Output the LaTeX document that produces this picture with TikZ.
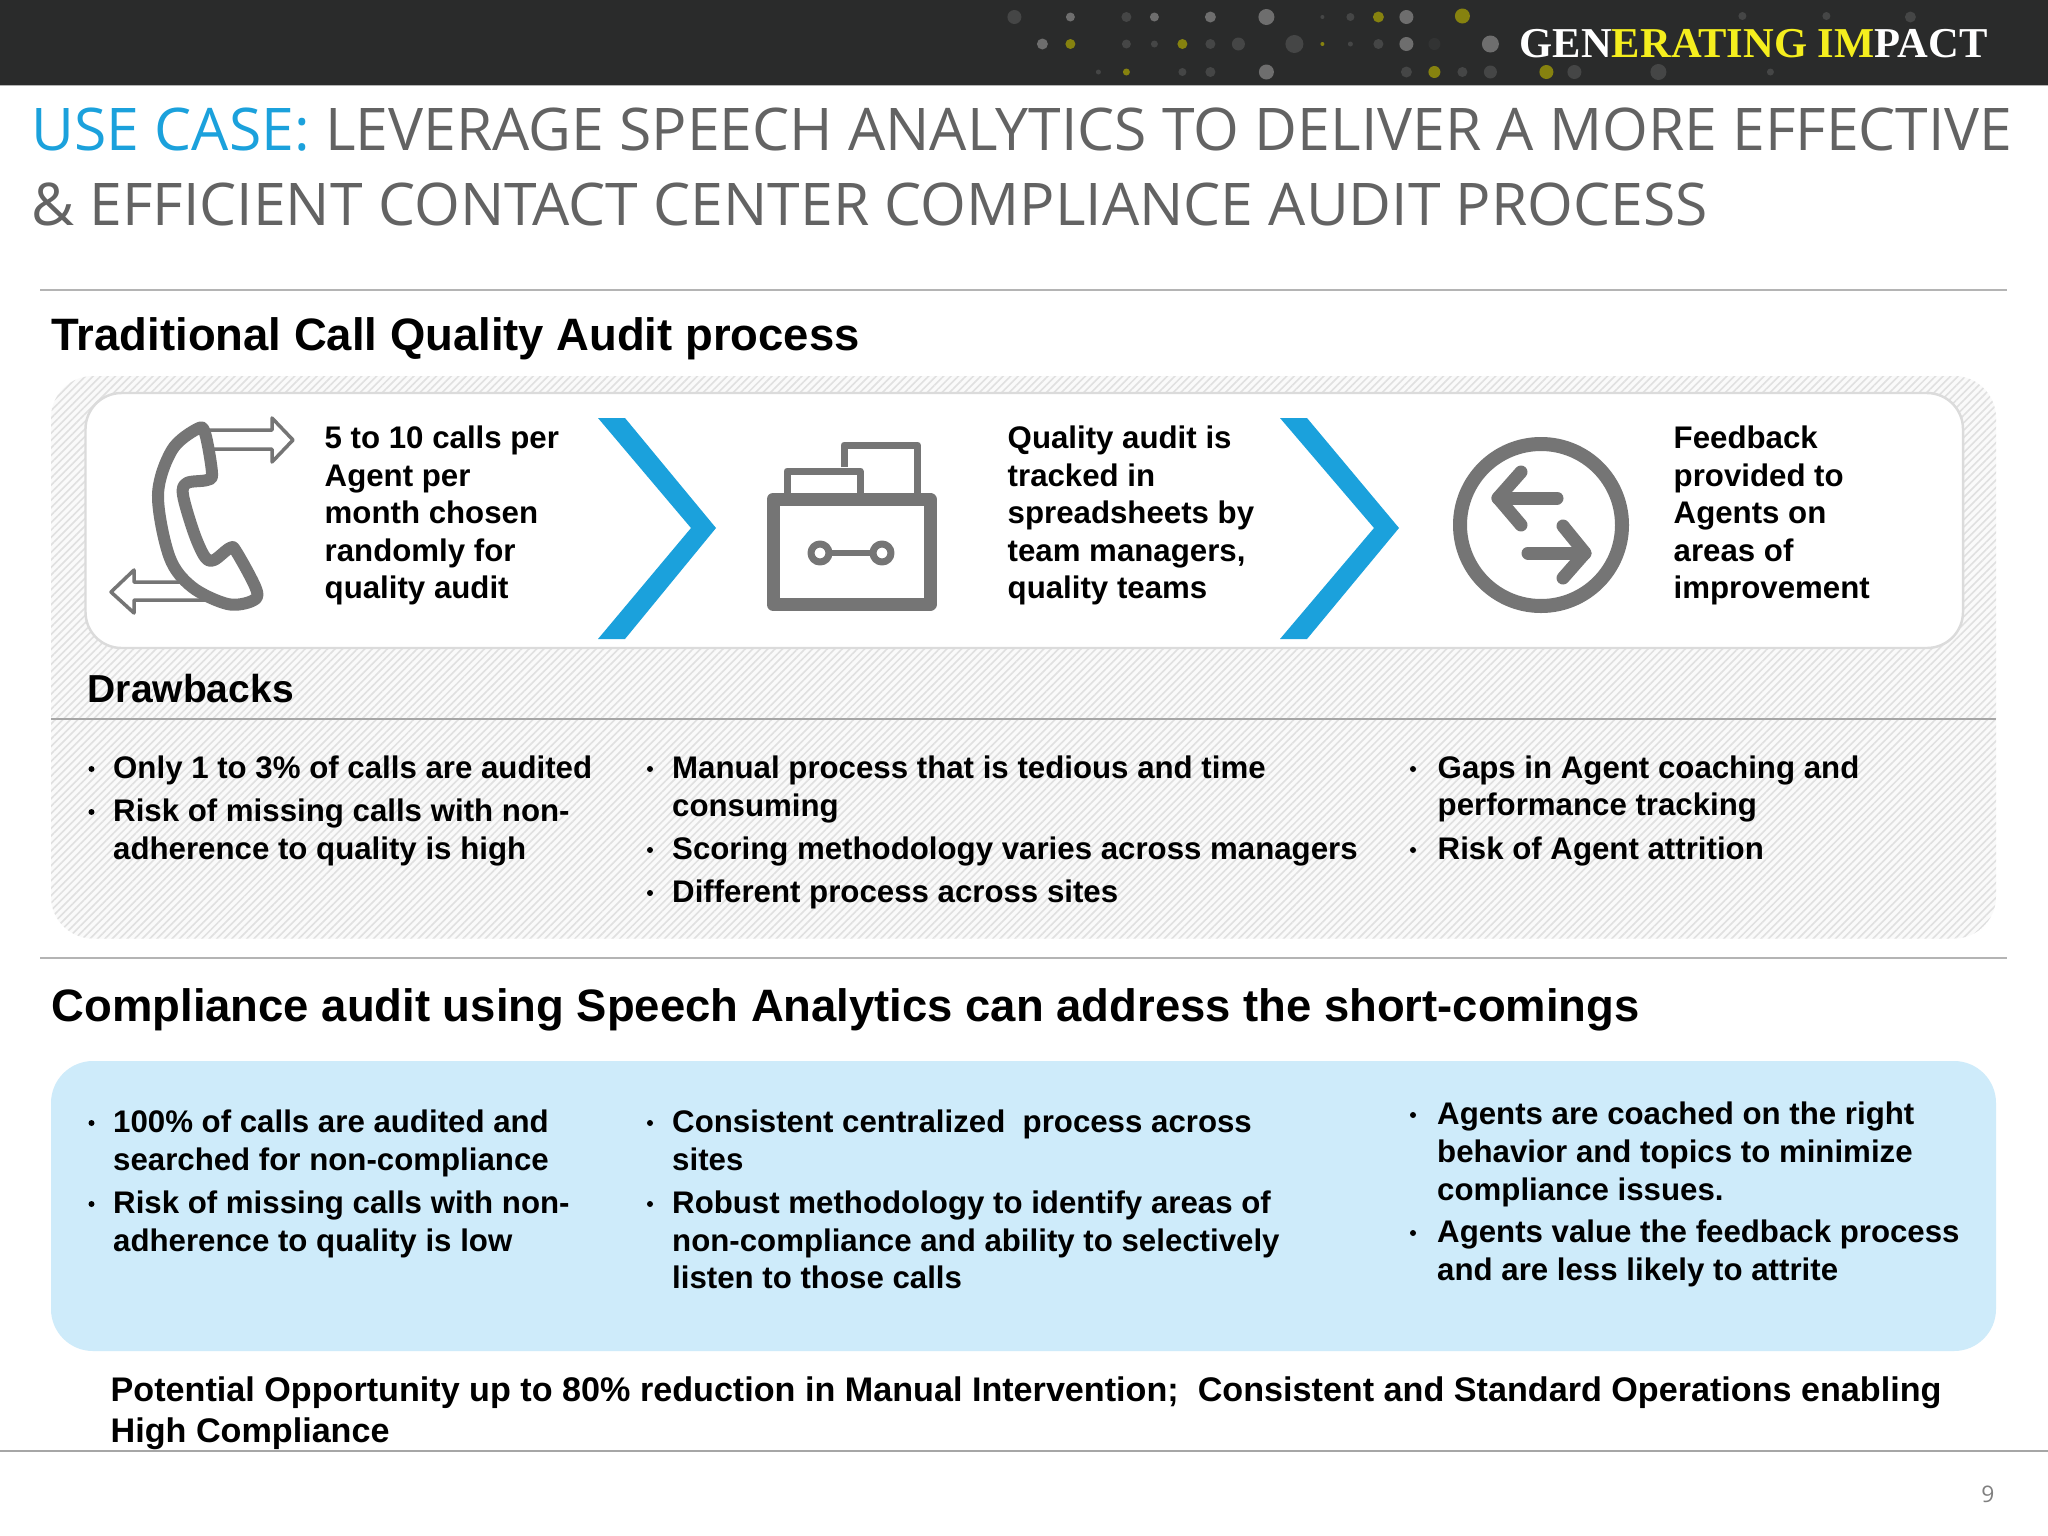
\documentclass[tikz,border=0pt]{standalone}
\usepackage{fontspec}
\usepackage{xcolor}
\usepackage{tikz}
\setmainfont{Liberation Sans}
\newfontfamily\titlefont{Open Sans}
\newfontfamily\logofont{Liberation Serif}
\usetikzlibrary{shapes,positioning,calc,patterns.meta}
\definecolor{bandDark}{HTML}{2A2B2B}
\definecolor{accentBlue}{HTML}{1BA1DC}
\definecolor{titleGray}{HTML}{636363}
\definecolor{iconGray}{HTML}{757575}
\definecolor{ruleGray}{HTML}{B4B4B4}
\definecolor{paleBlue}{HTML}{CEEBFA}
\definecolor{logoYellow}{HTML}{F5EE1E}
\definecolor{dotGray}{HTML}{6E6E6E}
\definecolor{dotDim}{HTML}{454646}
\definecolor{dotOlive}{HTML}{86820F}
\tikzset{
    bodytxt/.style={anchor=base west,inner sep=0pt,font=\fontsize{8.88}{10}\selectfont\bfseries,text=black},
    headtxt/.style={anchor=base west,inner sep=0pt,font=\fontsize{12.92}{14}\selectfont\bfseries,text=black},
    closetxt/.style={anchor=base west,inner sep=0pt,font=\fontsize{9.71}{11}\selectfont\bfseries,text=black},
    titletxt/.style={anchor=base west,inner sep=0pt,font=\fontsize{16.73}{20}\selectfont\titlefont,text=titleGray},
    bul/.style={circle,fill=black,inner sep=0pt,minimum size=0.06cm},
    rulerln/.style={draw=ruleGray,line width=0.4pt},
    chevron/.style={fill=accentBlue},
    iconln/.style={draw=iconGray,line join=round},
}
\begin{document}
\begin{tikzpicture}[x=0.01cm,y=-0.01cm]
    \useasboundingbox (0,0) rectangle (2048,1536);
    \fill[white] (0,0) rectangle (2048,1536);

    % Dark band with dots and logo
    \fill[bandDark] (0,0) rectangle (2048,85);
    \draw[ruleGray,line width=0.5pt] (0,85.5) -- (2048,85.5);
    \foreach \k/\row/\rad/\col in {0/17/7/dotDim,2/17/4.5/dotGray,4/17/5/dotDim,5/17/4.5/dotGray,7/17/5.5/dotGray,
        9/17/8/dotGray,11/17/2/dotDim,12/17/4/dotDim,13/17/5.5/dotOlive,14/17/7/dotGray,16/16/7.5/dotOlive,
        26/16/4/dotDim,29/16/4/dotDim,32/17/5.5/dotDim,
        1/44/5.5/dotGray,2/44/5/dotOlive,4/44/4.5/dotDim,5/44/3.5/dotDim,6/44/5/dotOlive,7/44/5/dotDim,8/44/6.5/dotDim,
        10/44/9/dotDim,11/44/2/dotOlive,12/44/2.5/dotDim,13/44/5/dotDim,14/44/7/dotGray,15/44/6/bandDark!70!dotDim,17/44/8.5/dotGray,
        3/72/2.5/dotDim,4/72/3.5/dotOlive,6/72/4/dotDim,7/72/5/dotDim,9/72/7.5/dotGray,
        14/72/5.5/dotDim,15/72/6/dotOlive,16/72/5/dotDim,17/72/6.5/dotDim,19/72/7/dotOlive,20/72/7/dotDim,23/72/8/dotDim,27/72/3.5/dotDim} {
        \fill[\col] ({1014.4+28*\k},\row) circle ({\rad});
    }
    \node[anchor=base west,inner sep=0pt,font=\fontsize{12.1}{14}\selectfont\logofont\bfseries,text=white] (logo) at (1519,57)
        {GEN\textcolor{logoYellow}{ERATING IM}PACT};

    % Page title
    \node[titletxt] (titleA) at (31,150.5) {\textcolor{accentBlue}{USE CASE:} LEVERAGE SPEECH ANALYTICS TO DELIVER A MORE EFFECTIVE};
    \node[titletxt] (titleB) at (31,225) {\& EFFICIENT CONTACT CENTER COMPLIANCE AUDIT PROCESS};
    \draw[rulerln] (40,290) -- (2007,290);

    % Hatched panel
    \node[headtxt] (tradHead) at (51,350) {Traditional Call Quality Audit process};
    \fill[rounded corners=0.42cm,fill=black!2,postaction={pattern={Lines[angle=45,distance=1.5pt,line width=0.45pt]},pattern color=black!12}]
        (51,376) rectangle (1996,938.5);
    \draw[rounded corners=0.36cm,fill=white,draw=black!14,line width=0.7pt] (85.5,393) rectangle (1963,648);

    % Chevrons
    \fill[chevron] (598,418) -- (625,418) -- (716,528) -- (625,639) -- (598,639) -- (691,528) -- cycle;
    \fill[chevron] (1280,418) -- (1307,418) -- (1399,528) -- (1307,639) -- (1280,639) -- (1374,528) -- cycle;

    % Phone with two arrows
    \draw[iconln,line width=0.035cm] (205,430) -- (272,430) -- (272,418) -- (293,440) -- (272,462) -- (272,449) -- (210,449);
    \draw[iconln,line width=0.035cm] (183,582) -- (134,582) -- (134,570) -- (111,592) -- (134,613) -- (134,600) -- (212,600);
    \draw[iconln,line width=0.12cm] plot[smooth cycle,tension=0.55] coordinates {
        (197,429) (172,450) (158,495) (169.5,557) (192,587) (227.5,604) (252,601) (256.5,590) (236.5,552) (230,548)
        (214,560) (205,557) (194,533) (183,495) (187,483) (207,480) (212,473) (205,433)};

    % File box
    \draw[iconln,line width=0.07cm] (787,493) -- (787,471) -- (860,471) -- (860,493);
    \draw[iconln,line width=0.07cm] (844,467) -- (844,445) -- (917.5,445) -- (917.5,493);
    \draw[iconln,line width=0.13cm] (773,499) rectangle (930,604.5);
    \draw[iconln,line width=0.06cm] (820,553) -- (882,553);
    \draw[iconln,fill=white,line width=0.07cm] (820,553) circle (9);
    \draw[iconln,fill=white,line width=0.07cm] (882,553) circle (9);

    % Feedback circle
    \draw[iconln,line width=0.14cm] (1541,525) circle (81);
    \draw[iconln,line width=0.13cm,line cap=round] (1557,498) -- (1498,498);
    \draw[iconln,line width=0.13cm,line cap=round] (1521,472) -- (1498,498) -- (1521,525);
    \draw[iconln,line width=0.13cm,line cap=round] (1528,553) -- (1585,553);
    \draw[iconln,line width=0.13cm,line cap=round] (1563,526) -- (1585,553) -- (1563,578);

    % Step texts
    \node[bodytxt] (stepAa) at (324,448) {5 to 10 calls per};
    \node[bodytxt] (stepAb) at (324,486) {Agent per};
    \node[bodytxt] (stepAc) at (324,523.5) {month chosen};
    \node[bodytxt] (stepAd) at (324,561) {randomly for};
    \node[bodytxt] (stepAe) at (324,598.5) {quality audit};
    \node[bodytxt] (stepBa) at (1007,448) {Quality audit is};
    \node[bodytxt] (stepBb) at (1007,486) {tracked in};
    \node[bodytxt] (stepBc) at (1007,523.5) {spreadsheets by};
    \node[bodytxt] (stepBd) at (1007,561) {team managers,};
    \node[bodytxt] (stepBe) at (1007,598.5) {quality teams};
    \node[bodytxt] (stepCa) at (1673,448) {Feedback};
    \node[bodytxt] (stepCb) at (1673,486) {provided to};
    \node[bodytxt] (stepCc) at (1673,523.5) {Agents on};
    \node[bodytxt] (stepCd) at (1673,561) {areas of};
    \node[bodytxt] (stepCe) at (1673,598.5) {improvement};

    % Drawbacks
    \node[anchor=base west,inner sep=0pt,font=\fontsize{11.1}{13}\selectfont\bfseries] (drawHead) at (87,702) {Drawbacks};
    \draw[draw=black!35,line width=0.4pt] (51,719) -- (1996,719);

    \node[bul] (dbA) at (91.5,769) {};
    \node[bodytxt] (dbAt) at (112.5,778) {Only 1 to 3\% of calls are audited};
    \node[bul] (dbB) at (91.5,812) {};
    \node[bodytxt] (dbBt) at (112.5,821) {Risk of missing calls with non-};
    \node[bodytxt] (dbBu) at (112.5,859) {adherence to quality is high};

    \node[bul] (dbC) at (650,769) {};
    \node[bodytxt] (dbCt) at (671.5,778) {Manual process that is tedious and time};
    \node[bodytxt] (dbCu) at (671.5,816) {consuming};
    \node[bul] (dbD) at (650,850) {};
    \node[bodytxt] (dbDt) at (671.5,859) {Scoring methodology varies across managers};
    \node[bul] (dbE) at (650,893) {};
    \node[bodytxt] (dbEt) at (671.5,902) {Different process across sites};

    \node[bul] (dbF) at (1413,769) {};
    \node[bodytxt] (dbFt) at (1437,778) {Gaps in Agent coaching and};
    \node[bodytxt] (dbFu) at (1437,815.5) {performance tracking};
    \node[bul] (dbG) at (1413,850) {};
    \node[bodytxt] (dbGt) at (1437,859) {Risk of Agent attrition};

    \draw[rulerln] (40,958) -- (2007,958);

    % Speech analytics panel
    \node[headtxt] (speechHead) at (51,1021) {Compliance audit using Speech Analytics can address the short-comings};
    \fill[paleBlue,rounded corners=0.42cm] (51,1061) rectangle (1996,1351);

    \node[bul] (saA) at (91.5,1123) {};
    \node[bodytxt] (saAt) at (112.5,1132) {100\% of calls are audited and};
    \node[bodytxt] (saAu) at (112.5,1170) {searched for non-compliance};
    \node[bul] (saB) at (91.5,1204) {};
    \node[bodytxt] (saBt) at (112.5,1213) {Risk of missing calls with non-};
    \node[bodytxt] (saBu) at (112.5,1251) {adherence to quality is low};

    \node[bul] (saC) at (650,1123) {};
    \node[bodytxt] (saCt) at (671.5,1132) {Consistent centralized\ \ process across};
    \node[bodytxt] (saCu) at (671.5,1170) {sites};
    \node[bul] (saD) at (650,1204) {};
    \node[bodytxt] (saDt) at (671.5,1213) {Robust methodology to identify areas of};
    \node[bodytxt] (saDu) at (671.5,1251) {non-compliance and ability to selectively};
    \node[bodytxt] (saDv) at (671.5,1288.5) {listen to those calls};

    \node[bul] (saE) at (1413,1115) {};
    \node[bodytxt] (saEt) at (1436.5,1124.5) {Agents are coached on the right};
    \node[bodytxt] (saEu) at (1436.5,1162.5) {behavior and topics to minimize};
    \node[bodytxt] (saEv) at (1436.5,1200) {compliance issues.};
    \node[bul] (saF) at (1413,1233) {};
    \node[bodytxt] (saFt) at (1436.5,1242) {Agents value the feedback process};
    \node[bodytxt] (saFu) at (1436.5,1280) {and are less likely to attrite};

    % Closing line and page number
    \node[closetxt] (closeA) at (110,1401.5) {Potential Opportunity up to 80\% reduction in Manual Intervention;\ \ Consistent and Standard Operations enabling};
    \node[closetxt] (closeB) at (110,1442.5) {High Compliance};
    \draw[draw=black!35,line width=0.5pt] (0,1451) -- (2048,1451);
    \node[anchor=base east,inner sep=0pt,font=\fontsize{6.5}{8}\selectfont\titlefont,text=black!50] (pageNum) at (1995,1502) {9};
\end{tikzpicture}
\end{document}
